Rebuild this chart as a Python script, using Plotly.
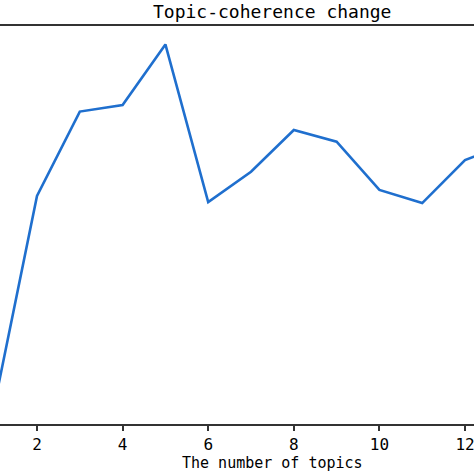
import plotly.graph_objects as go

topics = [1, 2, 3, 4, 5, 6, 7, 8, 9, 10, 11, 12, 13]
coherence = [0.4072, 0.4917, 0.5256, 0.5282, 0.5526, 0.4892, 0.5014,
             0.5182, 0.5135, 0.4941, 0.4888, 0.5061, 0.5126]
tick_vals = [2, 4, 6, 8, 10, 12]
title_text = "Topic-coherence change"
xlabel_text = "The number of topics"

FONT = "DejaVu Sans Mono"

fig = go.Figure()
fig.add_trace(go.Scatter(
    x=topics, y=coherence, mode="lines",
    line=dict(color="rgb(31,111,206)", width=2.6),
    showlegend=False,
))

fig.update_layout(
    width=474, height=474,
    margin=dict(l=0, r=0, t=26, b=50),
    paper_bgcolor="white", plot_bgcolor="white",
    font=dict(family=FONT, color="black"),
    xaxis=dict(
        range=[1.1355, 12.21],
        tickvals=tick_vals,
        ticktext=[str(v) for v in tick_vals],
        ticks="outside", ticklen=5, tickwidth=1.5, tickcolor="#333",
        showline=True, linecolor="#333", linewidth=1.5, mirror=True,
        showgrid=False, zeroline=False,
        ticklabeloverflow="allow",
        tickfont=dict(family=FONT, size=16, color="black"),
    ),
    yaxis=dict(
        range=[0.40, 0.56], visible=False, showgrid=False, zeroline=False,
    ),
    annotations=[
        dict(text=title_text, xref="paper", yref="paper",
             x=272/474, y=1, yshift=27, xanchor="center", yanchor="top",
             showarrow=False, font=dict(family=FONT, size=18, color="black")),
        dict(text=xlabel_text, xref="paper", yref="paper",
             x=272/474, y=0, yshift=-50, xanchor="center", yanchor="bottom",
             showarrow=False, font=dict(family=FONT, size=15, color="black")),
    ],
)

fig.write_html("out.html",
               config={"displayModeBar": False},
               post_script="document.body.style.margin='0';document.body.style.overflow='hidden';")
